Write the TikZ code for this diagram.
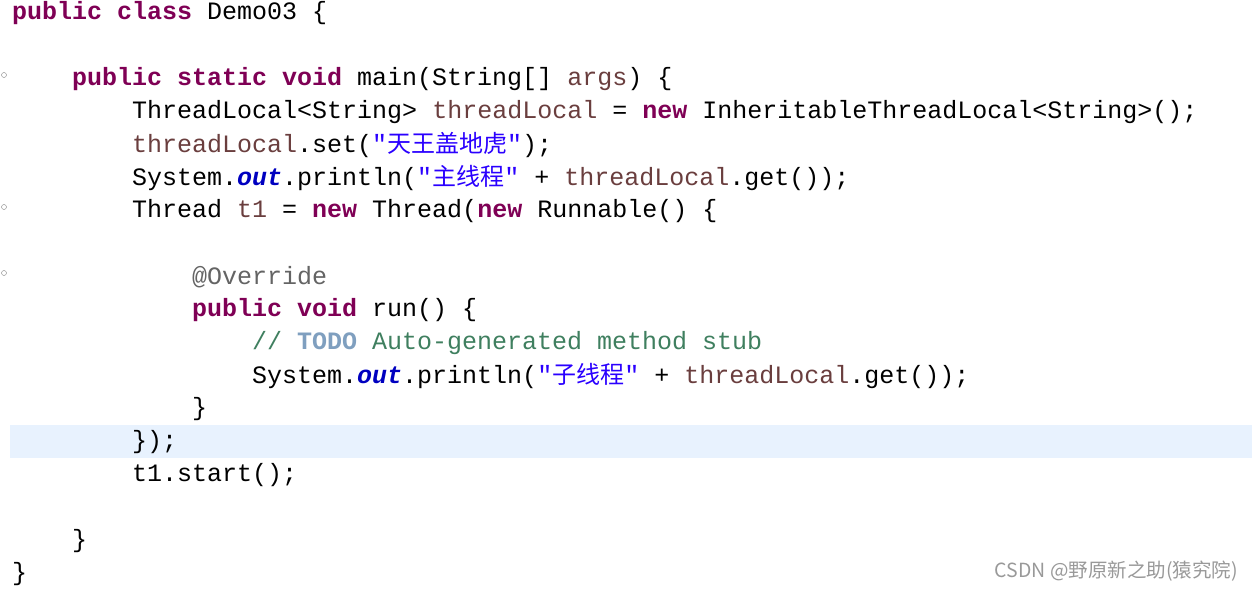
\documentclass[tikz,border=0pt]{standalone}
\usepackage{fontspec}
\setmonofont{Liberation Mono}
\newfontfamily\cjk{Noto Sans CJK SC}
\definecolor{kwc}{HTML}{7F0055}
\definecolor{varc}{HTML}{6A3E3E}
\definecolor{strc}{HTML}{2A00FF}
\definecolor{outc}{HTML}{0000C0}
\definecolor{cmc}{HTML}{3F7F5F}
\definecolor{todoc}{HTML}{7F9FBF}
\definecolor{annc}{HTML}{646464}
\definecolor{hl}{HTML}{E8F2FE}
\newcommand{\kw}[1]{\textcolor{kwc}{\bfseries #1}}
\newcommand{\vr}[1]{\textcolor{varc}{#1}}
\newcommand{\st}[1]{\textcolor{strc}{#1}}
\newcommand{\ou}[1]{\textcolor{outc}{\bfseries\itshape #1}}
\newcommand{\cz}[1]{{\cjk\fontsize{24pt}{24pt}\selectfont #1}}
\begin{document}
\begin{tikzpicture}[x=1pt,y=1pt,
  code/.style={anchor=west,inner sep=0pt,font=\ttfamily\fontsize{25pt}{25pt}\selectfont,text=black},
  fold/.style={draw=gray,fill=white,circle,inner sep=0pt,minimum size=5pt}]
\useasboundingbox (0,0) rectangle (1252,-591);
\fill[hl] (10,-425) rectangle (1252,-458);
\node[code] (l1) at (12,-13) {\kw{public} \kw{class} Demo03 \{};
\node[code] (l2) at (72,-79) {\kw{public} \kw{static} \kw{void} main(String[] \vr{args}) \{};
\node[code] (l3) at (132,-112) {ThreadLocal<String> \vr{threadLocal} = \kw{new} InheritableThreadLocal<String>();};
\node[code] (l4) at (132,-145) {\vr{threadLocal}.set(\st{"\cz{天王盖地虎}"});};
\node[code] (l5) at (132,-178) {System.\ou{out}.println(\st{"\cz{主线程}"} + \vr{threadLocal}.get());};
\node[code] (l6) at (132,-211) {Thread \vr{t1} = \kw{new} Thread(\kw{new} Runnable() \{};
\node[code] (l7) at (192,-277) {\textcolor{annc}{@Override}};
\node[code] (l8) at (192,-310) {\kw{public} \kw{void} run() \{};
\node[code] (l9) at (252,-343) {\textcolor{cmc}{// \textcolor{todoc}{\bfseries TODO} Auto-generated method stub}};
\node[code] (l10) at (252,-376) {System.\ou{out}.println(\st{"\cz{子线程}"} + \vr{threadLocal}.get());};
\node[code] (l11) at (192,-409) {\}};
\node[code] (l12) at (132,-442) {\});};
\node[code] (l13) at (132,-475) {t1.start();};
\node[code] (l14) at (72,-541) {\}};
\node[code] (l15) at (12,-574) {\}};
\node[fold] (f1) at (4,-75) {};
\node[fold] (f2) at (4,-207) {};
\node[fold] (f3) at (4,-273) {};
\node[anchor=east,inner sep=0pt,text=gray!80,font={\cjk\fontsize{19.5pt}{19.5pt}\selectfont}] (wm) at (1238,-571) {CSDN @野原新之助(猿究院)};
\end{tikzpicture}
\end{document}
